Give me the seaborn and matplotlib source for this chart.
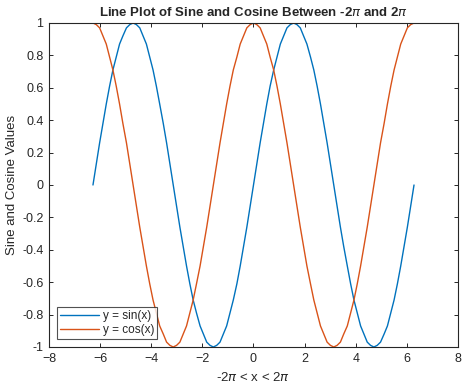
import matplotlib
matplotlib.use("Agg")
import matplotlib.pyplot as plt
import seaborn as sns
import pandas as pd

# Sample points (x from -2pi to 2pi, 7.5 degree steps)
x_vals = [-6.28, -6.15, -6.02, -5.89, -5.76, -5.63, -5.50, -5.37, -5.24, -5.11,
          -4.97, -4.84, -4.71, -4.58, -4.45, -4.32, -4.19, -4.06, -3.93, -3.80,
          -3.67, -3.53, -3.40, -3.27, -3.14, -3.01, -2.88, -2.75, -2.62, -2.49,
          -2.36, -2.23, -2.09, -1.96, -1.83, -1.70, -1.57, -1.44, -1.31, -1.18,
          -1.05, -0.92, -0.79, -0.65, -0.52, -0.39, -0.26, -0.13, 0.00,
          0.13, 0.26, 0.39, 0.52, 0.65, 0.79, 0.92, 1.05, 1.18, 1.31,
          1.44, 1.57, 1.70, 1.83, 1.96, 2.09, 2.23, 2.36, 2.49, 2.62,
          2.75, 2.88, 3.01, 3.14, 3.27, 3.40, 3.53, 3.67, 3.80, 3.93,
          4.06, 4.19, 4.32, 4.45, 4.58, 4.71, 4.84, 4.97, 5.11, 5.24,
          5.37, 5.50, 5.63, 5.76, 5.89, 6.02, 6.15, 6.28]
sin_vals = [0.00, 0.13, 0.26, 0.38, 0.50, 0.61, 0.71, 0.79, 0.87, 0.92, 0.97, 0.99, 1.00,
            0.99, 0.97, 0.92, 0.87, 0.79, 0.71, 0.61, 0.50, 0.38, 0.26, 0.13, 0.00,
            -0.13, -0.26, -0.38, -0.50, -0.61, -0.71, -0.79, -0.87, -0.92, -0.97, -0.99, -1.00,
            -0.99, -0.97, -0.92, -0.87, -0.79, -0.71, -0.61, -0.50, -0.38, -0.26, -0.13, 0.00,
            0.13, 0.26, 0.38, 0.50, 0.61, 0.71, 0.79, 0.87, 0.92, 0.97, 0.99, 1.00,
            0.99, 0.97, 0.92, 0.87, 0.79, 0.71, 0.61, 0.50, 0.38, 0.26, 0.13, 0.00,
            -0.13, -0.26, -0.38, -0.50, -0.61, -0.71, -0.79, -0.87, -0.92, -0.97, -0.99, -1.00,
            -0.99, -0.97, -0.92, -0.87, -0.79, -0.71, -0.61, -0.50, -0.38, -0.26, -0.13, 0.00]
cos_vals = [1.00, 0.99, 0.97, 0.92, 0.87, 0.79, 0.71, 0.61, 0.50, 0.38, 0.26, 0.13, 0.00,
            -0.13, -0.26, -0.38, -0.50, -0.61, -0.71, -0.79, -0.87, -0.92, -0.97, -0.99, -1.00,
            -0.99, -0.97, -0.92, -0.87, -0.79, -0.71, -0.61, -0.50, -0.38, -0.26, -0.13, 0.00,
            0.13, 0.26, 0.38, 0.50, 0.61, 0.71, 0.79, 0.87, 0.92, 0.97, 0.99, 1.00,
            0.99, 0.97, 0.92, 0.87, 0.79, 0.71, 0.61, 0.50, 0.38, 0.26, 0.13, 0.00,
            -0.13, -0.26, -0.38, -0.50, -0.61, -0.71, -0.79, -0.87, -0.92, -0.97, -0.99, -1.00,
            -0.99, -0.97, -0.92, -0.87, -0.79, -0.71, -0.61, -0.50, -0.38, -0.26, -0.13, 0.00,
            0.13, 0.26, 0.38, 0.50, 0.61, 0.71, 0.79, 0.87, 0.92, 0.97, 0.99, 1.00]
series_labels = ["y = sin(x)", "y = cos(x)"]
x_ticks = [-8, -6, -4, -2, 0, 2, 4, 6, 8]
y_ticks = [-1, -0.8, -0.6, -0.4, -0.2, 0, 0.2, 0.4, 0.6, 0.8, 1]

df = pd.DataFrame({"x": x_vals * 2,
                   "y": sin_vals + cos_vals,
                   "series": [series_labels[0]] * len(x_vals) + [series_labels[1]] * len(x_vals)})

sns.set_style("ticks")
plt.rcParams["font.family"] = ["Liberation Sans", "DejaVu Sans"]
plt.rcParams["mathtext.fontset"] = "dejavusans"

fig = plt.figure(figsize=(4.74, 3.89), dpi=100)
ax = fig.add_axes([0.1034, 0.108, 0.8628, 0.8329])

sns.lineplot(data=df, x="x", y="y", hue="series", palette=["#0072BD", "#D95319"],
             linewidth=1.0, ax=ax, sort=False, estimator=None)

ax.set_xlim(-8, 8)
ax.set_ylim(-1, 1)
ax.set_xticks(x_ticks)
ax.set_yticks(y_ticks)
ax.set_yticklabels([f"{t:g}" for t in y_ticks])
for s in ax.spines.values():
    s.set_visible(True)
    s.set_color("#262626")
    s.set_linewidth(0.8)
ax.tick_params(direction="in", length=3, width=0.7, top=True, right=True,
               labelsize=9, colors="#262626", pad=4)

ax.set_title(r"Line Plot of Sine and Cosine Between -2$\pi$ and 2$\pi$",
             fontsize=9.5, fontweight="bold", pad=5)
ax.set_xlabel(r"-2$\pi$ < x < 2$\pi$", fontsize=9.5, color="#262626", labelpad=5)
ax.set_ylabel("Sine and Cosine Values", fontsize=9.5, color="#262626", labelpad=3)

leg = ax.legend(loc="lower left", fontsize=8.5, frameon=True, fancybox=False,
                edgecolor="#262626", borderpad=0.25, handlelength=3.3,
                handletextpad=0.3, labelspacing=0.15, borderaxespad=0.7)
leg.get_frame().set_linewidth(0.8)

fig.savefig("out.png", dpi=100)
